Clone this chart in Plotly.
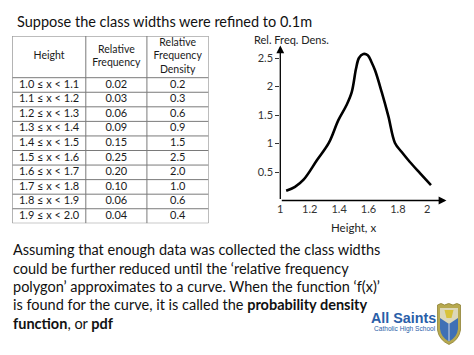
import plotly.graph_objects as go

W, H = 474, 355

# ---- data ----
heights = ["1.0 ≤ x < 1.1", "1.1 ≤ x < 1.2", "1.2 ≤ x < 1.3", "1.3 ≤ x < 1.4", "1.4 ≤ x < 1.5",
           "1.5 ≤ x < 1.6", "1.6 ≤ x < 1.7", "1.7 ≤ x < 1.8", "1.8 ≤ x < 1.9", "1.9 ≤ x < 2.0"]
rel_freq = ["0.02", "0.03", "0.06", "0.09", "0.15", "0.25", "0.20", "0.10", "0.06", "0.04"]
rel_freq_dens = ["0.2", "0.3", "0.6", "0.9", "1.5", "2.5", "2.0", "1.0", "0.6", "0.4"]
table_headers = ["Height", "Relative<br>Frequency", "Relative<br>Frequency<br>Density"]

curve_x = [1.04, 1.10, 1.16, 1.25, 1.33, 1.395, 1.45, 1.486, 1.515, 1.535, 1.565, 1.595,
           1.62, 1.645, 1.69, 1.735, 1.78, 1.826, 1.88, 1.95, 2.025]
curve_y = [0.17, 0.24, 0.37, 0.71, 1.01, 1.41, 1.67, 1.90, 2.31, 2.50, 2.57, 2.55,
           2.43, 2.28, 1.90, 1.48, 1.01, 0.85, 0.68, 0.48, 0.27]

x_ticks = [1, 1.2, 1.4, 1.6, 1.8, 2]
x_tick_labels = ["1", "1.2", "1.4", "1.6", "1.8", "2"]
y_ticks = [0.5, 1, 1.5, 2, 2.5]
y_tick_labels = ["0.5", "1", "1.5", "2", "2.5"]

title_text = "Suppose the class widths were refined to 0.1m"
body_lines = [
    "Assuming that enough data was collected the class widths",
    "could be further reduced until the ‘relative frequency",
    "polygon’ approximates to a curve. When the function ‘f(x)’",
    "is found for the curve, it is called the <b>probability density</b>",
    "<b>function</b>, or <b>pdf</b>",
]

def px(x):
    return x / W

def py(y):
    return 1 - y / H

FONT = "Lato"
TXT = "#1a1a1a"

fig = go.Figure()

# ---------- table, drawn on its own hidden axes (x2/y2) ----------
col_widths = [73.4, 61.0, 61.5]          # relative column widths
col_edges = [0.0]
for w in col_widths:
    col_edges.append(col_edges[-1] + w)
header_rows = 2.864                        # header height in row units
n_rows = len(heights)
row_edges = [0.0, header_rows] + [header_rows + i + 1 for i in range(n_rows)]
row_centers = [header_rows + i + 0.5 for i in range(n_rows)]
columns = [heights, rel_freq, rel_freq_dens]

for ci, col in enumerate(columns):
    cx = (col_edges[ci] + col_edges[ci + 1]) / 2
    fig.add_trace(go.Scatter(x=[cx] * n_rows, y=row_centers, text=col, mode="text",
                             textposition="middle center",
                             textfont=dict(family=FONT, size=11, color=TXT),
                             xaxis="x2", yaxis="y2", hoverinfo="skip", showlegend=False))
fig.add_trace(go.Scatter(x=[(col_edges[i] + col_edges[i + 1]) / 2 for i in range(3)],
                         y=[header_rows / 2] * 3, text=table_headers, mode="text",
                         textposition="middle center",
                         textfont=dict(family=FONT, size=10.5, color=TXT),
                         xaxis="x2", yaxis="y2", hoverinfo="skip", showlegend=False))

shapes = []
for xe in col_edges:
    shapes.append(dict(type="line", xref="x2", yref="y2", x0=xe, x1=xe, y0=0, y1=row_edges[-1],
                       line=dict(color="#7a7a7a", width=1)))
for ye in row_edges:
    shapes.append(dict(type="line", xref="x2", yref="y2", x0=0, x1=col_edges[-1], y0=ye, y1=ye,
                       line=dict(color="#7a7a7a", width=1)))

# ---------- curve ----------
fig.add_trace(go.Scatter(x=curve_x, y=curve_y, mode="lines",
                         line=dict(color="black", width=2.6, shape="spline", smoothing=1.0),
                         hoverinfo="skip", showlegend=False))

x0p, x1p = 280.3, 280.3 + 1.13 * 147
y0p, y1p = 200.5, 200.5 - 2.72 * 57
fig.update_layout(
    xaxis=dict(range=[1, 2.13], domain=[px(x0p), px(x1p)], showgrid=False, zeroline=False,
               showline=False, tickvals=x_ticks, ticktext=x_tick_labels, ticks="",
               tickfont=dict(family=FONT, size=11, color="#333"), fixedrange=True, anchor="y"),
    yaxis=dict(range=[0, 2.72], domain=[py(y0p), py(y1p)], showgrid=False, zeroline=False,
               showline=False, tickvals=y_ticks, ticktext=y_tick_labels, ticks="outside",
               ticklen=4, tickcolor="#333", tickwidth=1,
               tickfont=dict(family=FONT, size=11, color="#333"), fixedrange=True, anchor="x"),
    xaxis2=dict(range=[0, col_edges[-1]], domain=[px(12.3), px(208.5)], visible=False,
                fixedrange=True, anchor="y2"),
    yaxis2=dict(range=[row_edges[-1], 0], domain=[py(223.3), py(36)], visible=False,
                fixedrange=True, anchor="x2"),
)

annotations = []
# axis arrows
annotations.append(dict(x=2.13, y=0, ax=1, ay=0, xref="x", yref="y", axref="x", ayref="y",
                        text="", showarrow=True, arrowhead=2, arrowsize=1.2, arrowwidth=1.3,
                        arrowcolor="black"))
annotations.append(dict(x=1, y=2.72, ax=1, ay=0, xref="x", yref="y", axref="x", ayref="y",
                        text="", showarrow=True, arrowhead=2, arrowsize=1.2, arrowwidth=1.3,
                        arrowcolor="black"))
annotations.append(dict(x=px(252), y=py(40), xref="paper", yref="paper", xanchor="left",
                        yanchor="middle", text="Rel. Freq. Dens.", showarrow=False,
                        font=dict(family=FONT, size=11, color="#222")))
annotations.append(dict(x=px(353), y=py(227), xref="paper", yref="paper", xanchor="center",
                        yanchor="middle", text="Height, x", showarrow=False,
                        font=dict(family=FONT, size=11.5, color="#222")))
annotations.append(dict(x=px(15), y=py(21.5), xref="paper", yref="paper", xanchor="left",
                        yanchor="middle", text=title_text, showarrow=False,
                        font=dict(family=FONT, size=14.5, color="#111")))
for i, line in enumerate(body_lines):
    annotations.append(dict(x=px(11), y=py(250 + 18.3 * i), xref="paper", yref="paper",
                            xanchor="left", yanchor="middle", text=line, showarrow=False,
                            font=dict(family=FONT, size=14.5, color="#111")))
# logo text
annotations.append(dict(x=px(436.5), y=py(317.5), xref="paper", yref="paper", xanchor="right",
                        yanchor="middle", text="<b>All Saints</b>", showarrow=False, borderpad=0,
                        font=dict(family="Liberation Sans", size=14.3, color="#2a5ea8")))
annotations.append(dict(x=px(436.5), y=py(328.8), xref="paper", yref="paper", xanchor="right",
                        yanchor="middle", text="Catholic High School", showarrow=False, borderpad=0,
                        font=dict(family="Liberation Sans", size=6.6, color="#2a5ea8")))

# school shield (decoration)
shapes += [
    dict(type="path", xref="paper", yref="paper",
         path=f"M {px(437.5)} {py(305)} Q {px(441)} {py(302)} {px(444.5)} {py(305)} "
              f"Q {px(448.7)} {py(302)} {px(453)} {py(305)} Q {px(457)} {py(302)} {px(460.5)} {py(305)} "
              f"L {px(460.5)} {py(330)} Q {px(459)} {py(340)} {px(449)} {py(344.5)} "
              f"Q {px(439)} {py(340)} {px(437.5)} {py(330)} Z",
         fillcolor="#b7a94e", line=dict(color="#8e8236", width=0.8)),
    dict(type="path", xref="paper", yref="paper",
         path=f"M {px(440)} {py(308)} L {px(458)} {py(308)} L {px(458)} {py(329)} "
              f"Q {px(457)} {py(337.5)} {px(449)} {py(341.5)} Q {px(441)} {py(337.5)} {px(440)} {py(329)} Z",
         fillcolor="#3f70b5", line=dict(width=0)),
    dict(type="path", xref="paper", yref="paper",
         path=f"M {px(440)} {py(308)} L {px(458)} {py(308)} L {px(458)} {py(318)} "
              f"L {px(449)} {py(324)} L {px(440)} {py(318)} Z",
         fillcolor="#dcd7b8", line=dict(width=0)),
    dict(type="path", xref="paper", yref="paper",
         path=f"M {px(444.5)} {py(310)} L {px(453.5)} {py(310)} L {px(451.5)} {py(318)} L {px(446.5)} {py(318)} Z",
         fillcolor="#d8c23a", line=dict(width=0)),
    dict(type="line", xref="paper", yref="paper", x0=px(449), x1=px(449), y0=py(324), y1=py(341),
         line=dict(color="#cfd6e6", width=1)),
]

fig.update_layout(width=W, height=H, margin=dict(l=0, r=0, t=0, b=0, autoexpand=False),
                  paper_bgcolor="white", plot_bgcolor="white", showlegend=False,
                  annotations=annotations, shapes=shapes)
fig.write_html("out.html", config={"displayModeBar": False},
               post_script="document.body.style.margin='0';document.body.style.padding='0';")
